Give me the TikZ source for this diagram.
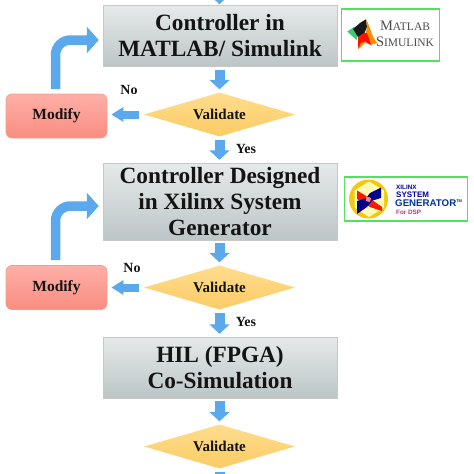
\documentclass[tikz,border=0pt]{standalone}
\usepackage{fontspec}
\setmainfont{Liberation Serif}
\newfontfamily\logosans{Liberation Sans}
\usetikzlibrary{arrows.meta,shapes.geometric}
\definecolor{arrowblue}{HTML}{59A9EC}
\definecolor{greenframe}{HTML}{55E060}
\tikzset{
  x=1pt,y=-1pt,
  stepbox/.style={rectangle,draw=boxedge,line width=.5pt,top color=boxtop,bottom color=boxbot,minimum width=234pt,
    inner sep=0pt,align=center,font=\bfseries\fontsize{23.3}{26}\selectfont,text=textdark},
  checkbox/.style={diamond,aspect=3.43,minimum width=151pt,minimum height=44pt,inner sep=0pt,
    top color=dtop,bottom color=dbot,font=\bfseries\fontsize{15}{16}\selectfont,text=textdark},
  fixbox/.style={rectangle,rounded corners=6pt,draw=redge,line width=.7pt,top color=rtop,bottom color=rbot,
    minimum width=101pt,minimum height=44pt,inner sep=0pt,font=\bfseries\fontsize{15.5}{16}\selectfont,text=textdark},
  answer/.style={font=\bfseries\fontsize{14}{15}\selectfont,text=textdark,inner sep=0pt},
  blockflow/.style={draw=arrowblue,line width=10pt,-{Triangle[width=20pt,length=9.5pt]},shorten >=3pt,shorten <=3pt},
  sideflow/.style={draw=arrowblue,line width=8pt,-{Triangle[width=14pt,length=12pt]},shorten >=4pt,shorten <=5pt},
  bentflow/.style={draw=arrowblue,line width=9.5pt,rounded corners=15pt,-{Triangle[width=26pt,length=12pt]},shorten >=4pt,shorten <=5pt},
  logoframe/.style={draw=greenframe,line width=1.4pt,fill=white,inner sep=0pt},
}
\colorlet{boxedge}{black!22}
\definecolor{boxtop}{HTML}{E6E9E9}
\definecolor{boxbot}{HTML}{BCC6C7}
\definecolor{dtop}{HTML}{FFDD8E}
\definecolor{dbot}{HTML}{FCCB64}
\definecolor{rtop}{HTML}{FFAFA8}
\definecolor{rbot}{HTML}{F98D80}
\definecolor{redge}{HTML}{EFA08F}
\definecolor{textdark}{HTML}{141414}
\begin{document}
\begin{tikzpicture}
\useasboundingbox (0,0) rectangle (474,474);
\clip (0,0) rectangle (474,474);
% main boxes
\node[stepbox,minimum height=61pt] (box1) at (220,36) {Controller in\\MATLAB/ Simulink};
\node[stepbox,minimum height=77pt] (box2) at (220,201.5) {Controller Designed\\in Xilinx System\\Generator};
\node[stepbox,minimum height=61pt] (box3) at (220,367.5) {HIL (FPGA)\\Co-Simulation};
% decisions
\node[checkbox] (dia1) at (219.5,114.5) {Validate};
\node[checkbox] (dia2) at (219.5,287.5) {Validate};
\node[checkbox] (dia3) at (219.5,446.5) {Validate};
% modify
\node[fixbox] (mod1) at (56.5,116) {Modify};
\node[fixbox] (mod2) at (56.5,287.5) {Modify};
% free ends
\coordinate (topin) at (219.5,-20);
\coordinate (botout) at (219.5,490);
% connectors
\draw[blockflow,shorten <=0pt,shorten >=1pt] (topin) -- (box1.north -| topin);
\draw[blockflow] (box1.south -| dia1.north) -- (dia1.north);
\draw[blockflow] (dia1.south) -- (box2.north -| dia1.south);
\draw[blockflow] (box2.south -| dia2.north) -- (dia2.north);
\draw[blockflow] (dia2.south) -- (box3.north -| dia2.south);
\draw[blockflow] (box3.south -| dia3.north) -- (dia3.north);
\draw[blockflow,shorten >=0pt,-] (dia3.south) -- (botout);
\draw[sideflow] (dia1.west) -- (mod1.east |- dia1.west);
\draw[sideflow] (dia2.west) -- (mod2.east |- dia2.west);
\coordinate (b1s) at (55.5,94);
\coordinate (b2s) at (55.5,265);
\draw[bentflow] (b1s) |- (box1.west |- 0,40);
\draw[bentflow] (b2s) |- (box2.west |- 0,206);
% answers
\node[answer] (no1) at (129,90) {No};
\node[answer] (yes1) at (246,149) {Yes};
\node[answer] (no2) at (132,268) {No};
\node[answer] (yes2) at (246,322) {Yes};
% MATLAB logo
\node[logoframe,minimum width=98pt,minimum height=52pt] (logoA) at (390.5,35) {};
\fill[teal!55!green!75!white] (347.3,31.5) -- (354,27) -- (358,33) -- (356.5,40) -- cycle;
\fill[black!90] (366,19.3) -- (360,23) -- (353,29) -- (358,37) -- (364,34) -- (367,27) -- cycle;
\fill[orange!90!yellow] (366,19.3) .. controls (370,26) and (372,38) .. (377.3,43) -- (370,45) -- (365,37) -- (367,27) -- cycle;
\fill[red!85!orange] (358.3,49) -- (358,37) -- (364,33) -- (367,33) -- (371,45) -- (365,42) -- cycle;
\fill[orange!80!yellow] (358.3,49) -- (361,43) -- (366,41) -- (363,45) -- cycle;
\node[inner sep=0pt,text=black!70,font=\fontsize{14.5}{15}\selectfont] (matlabtxt) at (405,26) {M\fontsize{11.5}{12}\selectfont ATLAB};
\node[inner sep=0pt,text=black!70,font=\fontsize{14.5}{15}\selectfont] (simtxt) at (405,42) {S\fontsize{11.5}{12}\selectfont IMULINK};
% Xilinx logo
\node[logoframe,minimum width=123.5pt,minimum height=44pt] (logoB) at (406,199) {};
\fill[yellow!70!orange!95!black] (368.5,199) circle (19.5);
\fill[yellow!30!white] (369,181.5) -- (384,190.5) -- (384,207.5) -- (369,217) -- (354.5,207.5) -- (354.5,190.5) -- cycle;
\fill[red!80!orange] (357,190.5) -- (368,197) -- (382,207) -- (382,211) -- (370,207) -- (357,199) -- cycle;
\fill[blue!55!black] (381,187.5) -- (381,198) -- (371,201) -- (366,198) -- (370,193) -- cycle;
\fill[blue!55!black] (357,201) -- (367,198) -- (372,201) -- (367,207) -- (357,214) -- cycle;
\fill[red!50!white] (366,196) -- (371,198) -- (370,202) -- (366,201) -- cycle;
\node[inner sep=0pt,anchor=west,text=blue!65!black,font=\logosans\bfseries\fontsize{6.3}{6}\selectfont] (xtxt1) at (396,187.5) {XILINX};
\node[inner sep=0pt,anchor=west,text=blue!65!black,font=\logosans\bfseries\fontsize{8}{8}\selectfont] (xtxt2) at (396,194.5) {SYSTEM};
\node[inner sep=0pt,anchor=west,text=blue!50!black!80!cyan,font=\logosans\bfseries\fontsize{9.7}{10}\selectfont] (xtxt3) at (395,203) {GENERATOR\textsuperscript{\fontsize{4}{4}\selectfont TM}};
\node[inner sep=0pt,anchor=west,text=magenta!70!black,font=\logosans\bfseries\fontsize{6.3}{7}\selectfont] (xtxt4) at (396,212) {For DSP};
\end{tikzpicture}
\end{document}
